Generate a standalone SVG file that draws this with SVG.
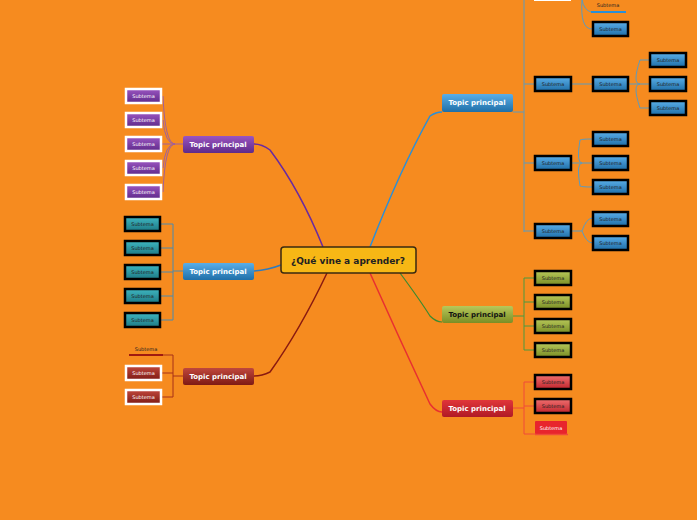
<svg xmlns="http://www.w3.org/2000/svg" width="697" height="520" viewBox="0 0 697 520">
<defs>
<linearGradient id="gB" x1="0" y1="0" x2="0" y2="1"><stop offset="0" stop-color="#5aaee8"/><stop offset="1" stop-color="#1f6fa8"/></linearGradient>
<linearGradient id="gP" x1="0" y1="0" x2="0" y2="1"><stop offset="0" stop-color="#9a55c0"/><stop offset="1" stop-color="#5f2a8a"/></linearGradient>
<linearGradient id="gT" x1="0" y1="0" x2="0" y2="1"><stop offset="0" stop-color="#3fb6c0"/><stop offset="1" stop-color="#1d7a85"/></linearGradient>
<linearGradient id="gR" x1="0" y1="0" x2="0" y2="1"><stop offset="0" stop-color="#c0473c"/><stop offset="1" stop-color="#7e1a14"/></linearGradient>
<linearGradient id="gG" x1="0" y1="0" x2="0" y2="1"><stop offset="0" stop-color="#b8c85a"/><stop offset="1" stop-color="#7a8e25"/></linearGradient>
<linearGradient id="gRR" x1="0" y1="0" x2="0" y2="1"><stop offset="0" stop-color="#f07070"/><stop offset="1" stop-color="#c0252d"/></linearGradient>
<linearGradient id="gRT" x1="0" y1="0" x2="0" y2="1"><stop offset="0" stop-color="#e0353a"/><stop offset="1" stop-color="#b01a25"/></linearGradient>
</defs>
<style>
text{font-family:Verdana,"DejaVu Sans",sans-serif;text-anchor:middle;dominant-baseline:central}
.t{font-size:7px;font-weight:bold;fill:#fff}
.s{font-size:5px;fill:#222}
.sw{font-size:5px;fill:#fff}
.blk{stroke:#000;stroke-width:2.5}
.wht{stroke:#fff;stroke-width:2.5}
.c{fill:none;stroke-width:1}
</style>
<rect width="697" height="520" fill="#f68b1f"/>
<g id="connectors" fill="none">
<path d="M323 247 Q300 190 270 150 Q262 144 254 144" stroke="#6a2aa0" stroke-width="1.5"/>
<path d="M281 265 Q268 270 254 271" stroke="#2e7bbf" stroke-width="1.5"/>
<path d="M327 273 Q300 330 270 372 Q262 376 254 376" stroke="#8a1a10" stroke-width="1.5"/>
<path d="M370 247 Q400 170 430 116 Q436 112 442 112" stroke="#2a8fd8" stroke-width="1.5"/>
<path d="M400 273 Q420 300 430 316 Q436 322 442 322" stroke="#3a8a30" stroke-width="1.2"/>
<path d="M370 273 Q400 340 430 404 Q436 412 442 412" stroke="#e83030" stroke-width="1.5"/>
<g stroke="#a0609a" class="c">
<path d="M183 144 H175 M175 144 Q165 144 163 96 M175 144 Q165 144 163 120 M175 144 H161 M175 144 Q165 144 163 168 M175 144 Q165 144 163 192"/>
</g>
<g stroke="#4a8ab0" class="c"><path d="M183 271 H173 M173 224 V320 M160 224 H173 M160 248 H173 M160 272 H173 M160 296 H173 M160 320 H173"/></g>
<g stroke="#a83018" class="c"><path d="M183 376 H173 M173 355 V397 M163 355 H173 M161 373 H173 M161 397 H173"/></g>
<g stroke="#5a9bc0" class="c"><path d="M513 112 H524 M524 0 V232 M524 84 H535 M524 163 H535 M524 231 H535
M571 84 H592 M628 84 H640 M640 84 Q632 84 640 60 M640 60 H649 M640 84 H649 M640 84 Q632 84 640 108 M640 108 H649
M571 163 H592 M582 163 Q576 163 580 140 Q582 139 592 139 M582 163 Q576 163 580 186 Q582 187 592 187
M571 231 H582 M582 231 Q586 219 592 218 M582 231 Q586 242 592 243
M582 0 Q584 10 591 12 M582 0 Q580 29 592 29"/></g>
<g stroke="#4a9a40" class="c"><path d="M513 316 H524 M524 278 V350 M524 278 H535 M524 302 H535 M524 326 H535 M524 350 H535"/></g>
<g stroke="#f04a3a" class="c"><path d="M513 408 H524 M524 382 V434 M524 382 H535 M524 406 H535 M524 434 H567"/></g>
</g>
<g id="central"><rect x="281" y="247" width="135" height="26" rx="3" fill="#f7b715" stroke="#3a2a10" stroke-width="1.5"/><text x="348" y="261" style="font-size:9px;font-weight:bold;fill:#222">¿Qué vine a aprender?</text></g>
<g id="topic-blue"><rect x="442" y="94" width="71" height="18" rx="2" fill="url(#gB)"/><text class="t" x="477" y="103">Topic principal</text></g>
<g id="topic-purple"><rect x="183" y="136" width="71" height="17" rx="2" fill="url(#gP)"/><text class="t" x="218" y="145">Topic principal</text></g>
<g id="topic-teal"><rect x="183" y="263" width="71" height="17" rx="2" fill="url(#gB)"/><text class="t" x="218" y="272">Topic principal</text></g>
<g id="topic-darkred"><rect x="183" y="368" width="71" height="17" rx="2" fill="url(#gR)"/><text class="t" x="218" y="377">Topic principal</text></g>
<g id="topic-green"><rect x="442" y="306" width="71" height="17" rx="2" fill="url(#gG)"/><text class="t" x="477" y="315" style="fill:#111">Topic principal</text></g>
<g id="topic-red"><rect x="442" y="400" width="71" height="17" rx="2" fill="url(#gRT)"/><text class="t" x="477" y="409">Topic principal</text></g>
<g id="purple-subs">
<g id="p1"><rect x="126" y="89" width="35" height="14" class="wht" fill="url(#gP)"/><text class="sw" x="143.5" y="96">Subtema</text></g>
<g id="p2"><rect x="126" y="113" width="35" height="14" class="wht" fill="url(#gP)"/><text class="sw" x="143.5" y="120">Subtema</text></g>
<g id="p3"><rect x="126" y="137" width="35" height="14" class="wht" fill="url(#gP)"/><text class="sw" x="143.5" y="144">Subtema</text></g>
<g id="p4"><rect x="126" y="161" width="35" height="14" class="wht" fill="url(#gP)"/><text class="sw" x="143.5" y="168">Subtema</text></g>
<g id="p5"><rect x="126" y="185" width="35" height="14" class="wht" fill="url(#gP)"/><text class="sw" x="143.5" y="192">Subtema</text></g>
</g>
<g id="teal-subs">
<g id="t1"><rect x="125" y="217" width="35" height="14" class="blk" fill="url(#gT)"/><text class="s" x="142.5" y="224">Subtema</text></g>
<g id="t2"><rect x="125" y="241" width="35" height="14" class="blk" fill="url(#gT)"/><text class="s" x="142.5" y="248">Subtema</text></g>
<g id="t3"><rect x="125" y="265" width="35" height="14" class="blk" fill="url(#gT)"/><text class="s" x="142.5" y="272">Subtema</text></g>
<g id="t4"><rect x="125" y="289" width="35" height="14" class="blk" fill="url(#gT)"/><text class="s" x="142.5" y="296">Subtema</text></g>
<g id="t5"><rect x="125" y="313" width="35" height="14" class="blk" fill="url(#gT)"/><text class="s" x="142.5" y="320">Subtema</text></g>
</g>
<g id="darkred-subs">
<g id="r0"><text class="s" x="146" y="349">Subtema</text><line x1="129" y1="355" x2="163" y2="355" stroke="#a01a10" stroke-width="2"/></g>
<g id="r1"><rect x="126" y="366" width="35" height="14" class="wht" fill="url(#gR)"/><text class="sw" x="143.5" y="373">Subtema</text></g>
<g id="r2"><rect x="126" y="390" width="35" height="14" class="wht" fill="url(#gR)"/><text class="sw" x="143.5" y="397">Subtema</text></g>
</g>
<g id="blue-subs">
<g id="b0"><rect x="534" y="-12" width="37" height="13" fill="#fff"/></g>
<g id="b0a"><text class="s" x="608" y="5">Subtema</text><line x1="591" y1="12" x2="626" y2="12" stroke="#2a8fd8" stroke-width="2"/></g>
<g id="b0b"><rect x="593" y="22" width="35" height="14" class="blk" fill="url(#gB)"/><text class="s" x="610.5" y="29">Subtema</text></g>
<g id="b1"><rect x="535" y="77" width="36" height="14" class="blk" fill="url(#gB)"/><text class="s" x="553" y="84">Subtema</text></g>
<g id="b1a"><rect x="593" y="77" width="35" height="14" class="blk" fill="url(#gB)"/><text class="s" x="610.5" y="84">Subtema</text></g>
<g id="b1a1"><rect x="650" y="53" width="36" height="14" class="blk" fill="url(#gB)"/><text class="s" x="668" y="60">Subtema</text></g>
<g id="b1a2"><rect x="650" y="77" width="36" height="14" class="blk" fill="url(#gB)"/><text class="s" x="668" y="84">Subtema</text></g>
<g id="b1a3"><rect x="650" y="101" width="36" height="14" class="blk" fill="url(#gB)"/><text class="s" x="668" y="108">Subtema</text></g>
<g id="b2"><rect x="535" y="156" width="36" height="14" class="blk" fill="url(#gB)"/><text class="s" x="553" y="163">Subtema</text></g>
<g id="b2a"><rect x="593" y="132" width="35" height="14" class="blk" fill="url(#gB)"/><text class="s" x="610.5" y="139">Subtema</text></g>
<g id="b2b"><rect x="593" y="156" width="35" height="14" class="blk" fill="url(#gB)"/><text class="s" x="610.5" y="163">Subtema</text></g>
<g id="b2c"><rect x="593" y="180" width="35" height="14" class="blk" fill="url(#gB)"/><text class="s" x="610.5" y="187">Subtema</text></g>
<g id="b3"><rect x="535" y="224" width="36" height="14" class="blk" fill="url(#gB)"/><text class="s" x="553" y="231">Subtema</text></g>
<g id="b3a"><rect x="593" y="212" width="35" height="14" class="blk" fill="url(#gB)"/><text class="s" x="610.5" y="219">Subtema</text></g>
<g id="b3b"><rect x="593" y="236" width="35" height="14" class="blk" fill="url(#gB)"/><text class="s" x="610.5" y="243">Subtema</text></g>
</g>
<g id="green-subs">
<g id="g1"><rect x="535" y="271" width="36" height="14" class="blk" fill="url(#gG)"/><text class="s" x="553" y="278">Subtema</text></g>
<g id="g2"><rect x="535" y="295" width="36" height="14" class="blk" fill="url(#gG)"/><text class="s" x="553" y="302">Subtema</text></g>
<g id="g3"><rect x="535" y="319" width="36" height="14" class="blk" fill="url(#gG)"/><text class="s" x="553" y="326">Subtema</text></g>
<g id="g4"><rect x="535" y="343" width="36" height="14" class="blk" fill="url(#gG)"/><text class="s" x="553" y="350">Subtema</text></g>
</g>
<g id="red-subs">
<g id="rr1"><rect x="535" y="375" width="36" height="14" class="blk" fill="url(#gRR)"/><text class="s" x="553" y="382">Subtema</text></g>
<g id="rr2"><rect x="535" y="399" width="36" height="14" class="blk" fill="url(#gRR)"/><text class="s" x="553" y="406">Subtema</text></g>
<g id="rr3"><rect x="535" y="421" width="32" height="13" rx="1" fill="#e8252d"/><text class="sw" x="551" y="427.5">Subtema</text><line x1="535" y1="434.5" x2="568" y2="434.5" stroke="#f04a3a" stroke-width="1.5"/></g>
</g>
</svg>
